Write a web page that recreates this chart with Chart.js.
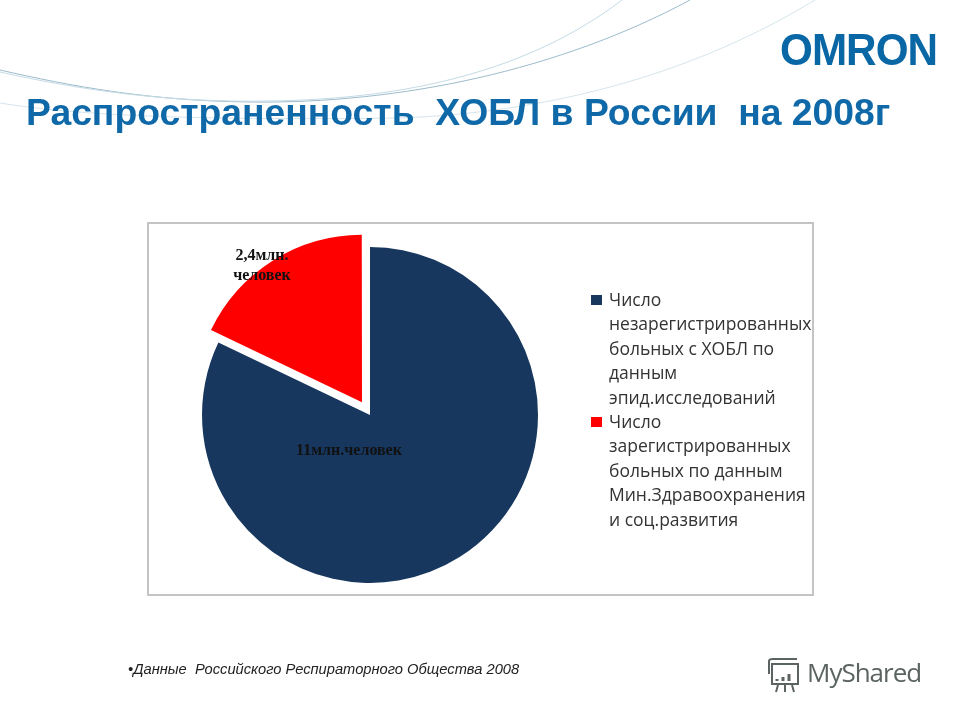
<!DOCTYPE html>
<html lang="ru"><head><meta charset="utf-8">
<script src="https://cdn.jsdelivr.net/npm/chart.js@4"></script>
<style>
html,body{margin:0;padding:0;background:#fff;width:960px;height:720px;overflow:hidden}
#wrap{position:relative;width:960px;height:720px}
#bg{position:absolute;left:0;top:0}
#frame{position:absolute;left:147px;top:222px;width:663px;height:370px;border:2px solid #c4c4c4;background:#fff}
canvas#c{position:absolute;left:0;top:0}
.t{position:absolute;white-space:pre}
#title{left:26px;top:91px;font:bold 37.3px "Liberation Sans",sans-serif;color:#0f69a8}
#logo{left:780px;top:25px;font:bold 44px "Liberation Sans",sans-serif;color:#0a67a6;transform-origin:left top;transform:scaleX(.96);letter-spacing:-1px}
#note{left:128px;top:661px;font:italic 14.7px "Liberation Sans",sans-serif;color:#222}
#brand{left:807px;top:654px;font:26px "Open Sans",sans-serif;color:#5b6462;letter-spacing:-1px}
</style></head><body>
<div id="wrap">
<svg id="bg" width="960" height="720" fill="none">
<path d="M0 70C70 86 150 101 250 102C400 104 560 70 690 0" stroke="#9dbccb" stroke-width="1"/>
<path d="M0 72C80 90 170 103 270 101C410 99 530 70 622 0" stroke="#c5dbe6" stroke-width="1"/>
<path d="M0 103C90 118 240 120 400 118C560 112 700 70 815 0" stroke="#d5e5ec" stroke-width="1"/>
<g stroke="#5b6462" stroke-width="2" transform="translate(-3,-1)">
<rect x="775" y="665" width="26" height="20"/><path d="M772 675V662Q772 660 776 660H800M781 686l-2 7M788 686v7M795 686l2 7"/>
<path d="M780 680v2M786 678v4M792 675v7" stroke-width="3"/></g>
</svg>
<div id="frame"></div>
<canvas id="c" width="960" height="720"></canvas>
<div class="t" id="title">Распространенность  ХОБЛ в России  на 2008г</div>
<div class="t" id="logo">OMRON</div>
<div class="t" id="note">•Данные  Российского Респираторного Общества 2008</div>
<div class="t" id="brand">MyShared</div>
</div>
<script>
const categories = [
  ["Число","незарегистрированных","больных с ХОБЛ по","данным","эпид.исследований"],
  ["Число","зарегистрированных","больных по данным","Мин.Здравоохранения","и соц.развития"]
];
const values = [11, 2.4];
const sliceLabels = [["11млн.человек"],["2,4млн.","человек"]];
const sliceColors = ["#17375e","#ff0000"];
const redOffset = 60;
const pieRadius = 168;

const extras = {
  id:"extras",
  beforeDatasetsDraw(chart){
    // keep the exploded red slice the same radius as the pie
    const red = chart.getDatasetMeta(0).data[1];
    red.outerRadius = pieRadius - 2;
  },
  afterDatasetsDraw(chart){
    const ctx = chart.ctx, arcs = chart.getDatasetMeta(0).data;
    ctx.save();
    ctx.textAlign="center"; ctx.textBaseline="middle"; ctx.fillStyle="#111";
    ctx.font='bold 16px "Liberation Serif",serif';
    const shift=[[-21,36],[-108,-159]];
    arcs.forEach((a,i)=>{
      sliceLabels[i].forEach((s,j)=>ctx.fillText(s,a.x+shift[i][0],a.y+shift[i][1]+j*20));
    });
    ctx.textAlign="left"; ctx.textBaseline="middle";
    ctx.font='17.5px "Open Sans",sans-serif';
    let y=301;
    categories.forEach((lines,i)=>{
      ctx.fillStyle=sliceColors[i];
      ctx.fillRect(591,y-6,11,10);
      ctx.fillStyle="#333";
      lines.forEach(l=>{ctx.fillText(l,609,y);y+=24.4;});
    });
    ctx.restore();
  }
};
new Chart(document.getElementById("c"),{
  type:"pie",
  data:{labels:categories.map(c=>c.join(" ")),datasets:[{data:values,backgroundColor:sliceColors,borderWidth:0,offset:[0,redOffset],radius:pieRadius}]},
  options:{responsive:false,animation:false,devicePixelRatio:1,
    layout:{padding:{left:0,right:220,top:110,bottom:0}},
    plugins:{legend:{display:false},title:{display:false},tooltip:{enabled:false}}},
  plugins:[extras]
});
</script>
</body></html>
